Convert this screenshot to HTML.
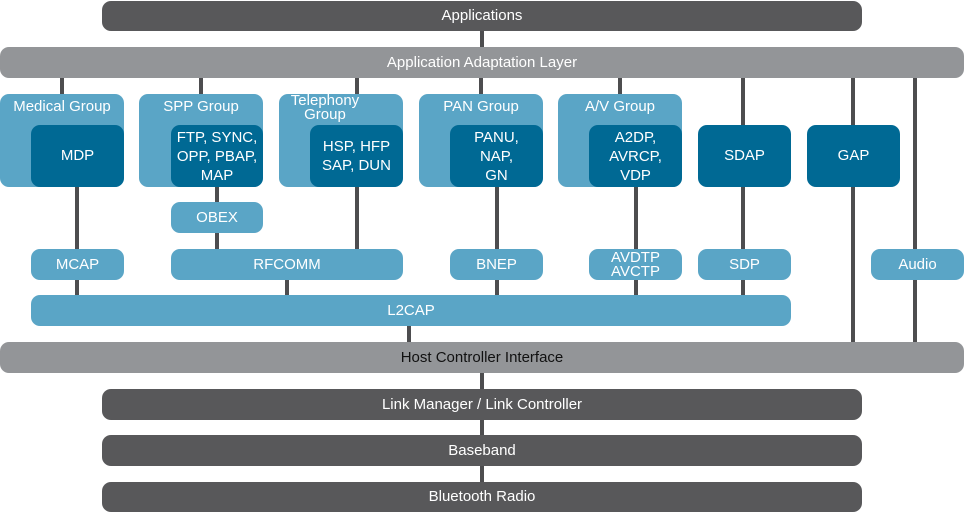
<!DOCTYPE html>
<html><head><style>
body{margin:0;width:964px;height:513px;background:#fff;position:relative;overflow:hidden;font-family:"Liberation Sans",sans-serif}
.b{position:absolute;box-sizing:border-box;border-radius:9px;color:#fff;font-size:15px;display:flex;align-items:center;justify-content:center;text-align:center;line-height:16px}
.g{background:#939598}.d{background:#58585a}.l{background:#5aa5c6}.n{background:#006994}
.grp{align-items:flex-start;padding-top:5px}
svg{position:absolute;left:0;top:0}
</style></head><body>
<svg width="964" height="513"><g stroke="#4d4d4f" stroke-width="4">
<line x1="482" y1="20" x2="482" y2="60"/>
<line x1="62" y1="60" x2="62" y2="110"/><line x1="201" y1="60" x2="201" y2="110"/><line x1="357" y1="60" x2="357" y2="110"/><line x1="481" y1="60" x2="481" y2="110"/><line x1="620" y1="60" x2="620" y2="110"/><line x1="743" y1="60" x2="743" y2="300"/><line x1="853" y1="60" x2="853" y2="350"/><line x1="915" y1="60" x2="915" y2="350"/>
<line x1="77" y1="150" x2="77" y2="300"/><line x1="217" y1="150" x2="217" y2="260"/><line x1="357" y1="150" x2="357" y2="260"/><line x1="287" y1="260" x2="287" y2="300"/><line x1="497" y1="150" x2="497" y2="300"/><line x1="636" y1="150" x2="636" y2="300"/>
<line x1="409" y1="310" x2="409" y2="350"/><line x1="482" y1="350" x2="482" y2="500"/>
</g></svg>
<div class="b d" style="left:102px;top:1px;width:760px;height:30px">Applications</div>
<div class="b g" style="left:0;top:47px;width:964px;height:31px">Application Adaptation Layer</div>
<div class="b l grp" style="left:0;top:94px;width:124px;height:93px;padding-top:5px">Medical Group</div>
<div class="b l grp" style="left:139px;top:94px;width:124px;height:93px;padding-top:5px">SPP Group</div>
<div class="b l grp" style="left:279px;top:94px;width:124px;height:93px;padding-top:0;padding-right:32px;line-height:14px">Telephony<br>Group</div>
<div class="b l grp" style="left:419px;top:94px;width:124px;height:93px;padding-top:5px">PAN Group</div>
<div class="b l grp" style="left:558px;top:94px;width:124px;height:93px;padding-top:5px">A/V Group</div>
<div class="b n" style="left:31px;top:125px;width:93px;height:62px">MDP</div>
<div class="b n" style="left:171px;top:125px;width:92px;height:62px;line-height:19px">FTP, SYNC,<br>OPP, PBAP,<br>MAP</div>
<div class="b n" style="left:310px;top:125px;width:93px;height:62px;line-height:19px">HSP, HFP<br>SAP, DUN</div>
<div class="b n" style="left:450px;top:125px;width:93px;height:62px;line-height:19px">PANU,<br>NAP,<br>GN</div>
<div class="b n" style="left:589px;top:125px;width:93px;height:62px;line-height:19px">A2DP,<br>AVRCP,<br>VDP</div>
<div class="b n" style="left:698px;top:125px;width:93px;height:62px">SDAP</div>
<div class="b n" style="left:807px;top:125px;width:93px;height:62px">GAP</div>
<div class="b l" style="left:171px;top:202px;width:92px;height:31px">OBEX</div>
<div class="b l" style="left:31px;top:249px;width:93px;height:31px">MCAP</div>
<div class="b l" style="left:171px;top:249px;width:232px;height:31px">RFCOMM</div>
<div class="b l" style="left:450px;top:249px;width:93px;height:31px">BNEP</div>
<div class="b l" style="left:589px;top:249px;width:93px;height:31px;line-height:14px">AVDTP<br>AVCTP</div>
<div class="b l" style="left:698px;top:249px;width:93px;height:31px">SDP</div>
<div class="b l" style="left:871px;top:249px;width:93px;height:31px">Audio</div>
<div class="b l" style="left:31px;top:295px;width:760px;height:31px">L2CAP</div>
<div class="b g" style="left:0;top:342px;width:964px;height:31px;color:#111">Host Controller Interface</div>
<div class="b d" style="left:102px;top:389px;width:760px;height:31px">Link Manager / Link Controller</div>
<div class="b d" style="left:102px;top:435px;width:760px;height:31px">Baseband</div>
<div class="b d" style="left:102px;top:482px;width:760px;height:30px">Bluetooth Radio</div>
</body></html>
